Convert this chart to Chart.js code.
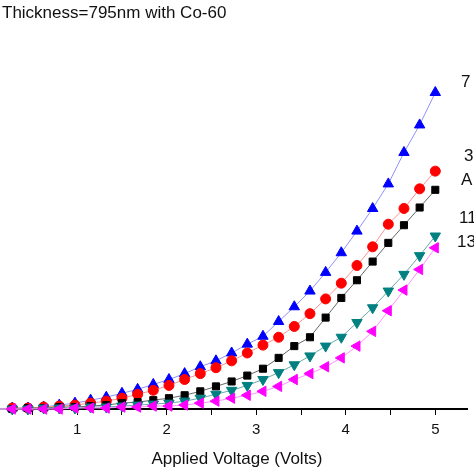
<!DOCTYPE html><html><head><meta charset="utf-8">
<script src="https://cdn.jsdelivr.net/npm/chart.js@4"></script>
<style>html,body{margin:0;padding:0;background:#fff}#w{position:relative;width:474px;height:474px}
.t{position:absolute;font-family:Arial,"Liberation Sans",sans-serif;color:#111;white-space:nowrap}</style></head><body>
<div id="w"><canvas id="c" width="474" height="474"></canvas>
<div class="t" style="left:2px;top:3px;font-size:17px">Thickness=795nm with Co-60</div>
<div class="t" style="left:461px;top:72px;font-size:17px">7</div>
<div class="t" style="left:464px;top:146px;font-size:17px">3</div>
<div class="t" style="left:461px;top:170px;font-size:17px">A</div>
<div class="t" style="left:459px;top:208px;font-size:17px">11</div>
<div class="t" style="left:457px;top:232px;font-size:17px">13</div>
</div>
<script>
const voltage=[0.1,0.275,0.45,0.625,0.8,0.975,1.15,1.325,1.5,1.675,1.85,2.025,2.2,2.375,2.55,2.725,2.9,3.075,3.25,3.425,3.6,3.775,3.95,4.125,4.3,4.475,4.65,4.825,5.0];
const blue=[0,1,1,2,4,6,9,12,16,20,25,30,36,43,49,57,66,74,89,104,120,139,159,181,204,229,261,289,322];
const red=[0,1,1,2,3,4,6,8,11,15,19,24,30,36,42,49,57,65,73,84,97,112,128,146,165,188,204,224,242];
const black=[0,0,1,1,2,2,3,4,6,7,9,11,14,18,23,28,34,41,52,64,73,93,113,131,150,169,187,205,223];
const teal=[0,0,0,1,1,1,2,2,3,4,5,6,8,11,15,19,24,30,37,45,54,64,73,88,103,120,137,156,176];
const magenta=[0,0,0,0,0,1,1,1,2,2,3,3,4,6,8,11,14,18,23,30,36,43,52,64,79,100,121,142,164];
const xTicks=[1,2,3,4,5];
const mk=(d,c,lc,style,rot,r)=>({data:voltage.map((v,i)=>({x:v,y:d[i]})),borderColor:lc,borderWidth:1,backgroundColor:c,pointBorderColor:c,pointStyle:style,rotation:rot,pointRadius:r,clip:false});
new Chart(document.getElementById('c'),{type:'line',data:{datasets:[
mk(magenta,'#ff00ff','#ff90ff','triangle',270,6),
mk(teal,'#008080','#6aaaaa','triangle',180,6),
mk(black,'#000','#666','rect',0,5),
mk(red,'#ff0000','#ff9090','circle',0,5),
mk(blue,'#0000ff','#9090ff','triangle',0,6)]},
options:{responsive:false,animation:false,plugins:{legend:{display:false},tooltip:{enabled:false}},
layout:{padding:0},
scales:{x:{type:'linear',min:0.216,max:5.354,afterFit:s=>{s.height=65},
afterBuildTicks:s=>{s.ticks=[0.5,1,1.5,2,2.5,3,3.5,4,4.5,5].map(v=>({value:v}))},
ticks:{callback:v=>xTicks.includes(v)?String(v):'',font:{size:15,family:'Arial'},color:'#111',maxRotation:0,autoSkip:false,padding:6},
grid:{drawOnChartArea:false,tickLength:6,color:'#000',tickColor:'#000'},border:{color:'#000',width:2},
title:{display:true,text:'Applied Voltage (Volts)',font:{size:17,family:'Arial'},color:'#111',padding:{top:6}}},
y:{display:false,min:0,max:409}}}});
</script></body></html>
